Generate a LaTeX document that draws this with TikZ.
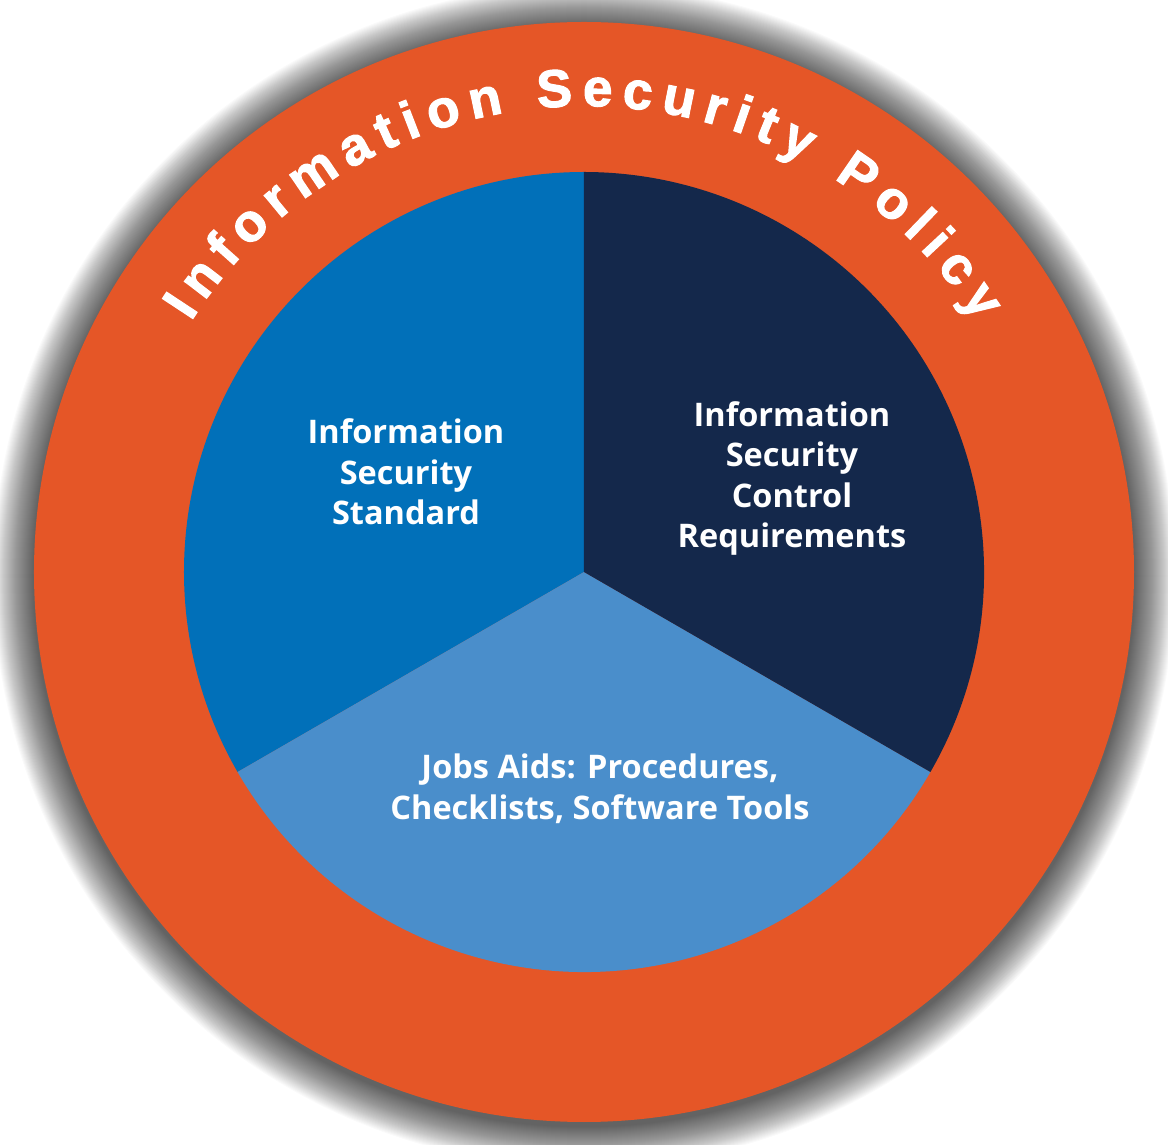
\documentclass[tikz,border=0pt]{standalone}
\usepackage{fontspec}
\usetikzlibrary{decorations.text}
\newfontfamily\curvefont{Liberation Sans}[BoldFeatures={FakeBold=2}]
\newfontfamily\innerfont{Open Sans}
\definecolor{ringorange}{RGB}{229,86,39}
\definecolor{navy}{RGB}{20,40,75}
\definecolor{midblue}{RGB}{1,112,185}
\definecolor{lightblue}{RGB}{74,142,203}
\begin{document}
\begin{tikzpicture}[x=1pt,y=1pt,
  labeltext/.style={text=white, align=center, font=\innerfont\bfseries\fontsize{32.5}{40.5}\selectfont}]
\useasboundingbox (-584pt,-573pt) rectangle (584pt,572pt);
\fill[white] (-584pt,-573pt) rectangle (584pt,572pt);
% soft shadow
\foreach \k in {0,...,40}{
  \fill[black, fill opacity=0.019] (0pt,-4pt) circle[radius={591pt-\k pt}];
}
% outer ring
\fill[ringorange] (0pt,0pt) circle[radius=550pt];
% sectors
\fill[midblue] (0pt,0pt) -- (90:400pt) arc[start angle=90, end angle=210, radius=400pt] -- cycle;
\fill[lightblue] (0pt,0pt) -- (210:400pt) arc[start angle=210, end angle=330, radius=400pt] -- cycle;
\fill[navy] (0pt,0pt) -- (330:400pt) arc[start angle=-30, end angle=90, radius=400pt] -- cycle;
% curved title
\path[decorate, decoration={text along path, text align={fit to path},
  text={|\curvefont\bfseries\fontsize{53}{60}\selectfont\color{white}|Information Security Policy}}]
  (147.5:466pt) arc[start angle=147.5, end angle=32.5, radius=466pt];
% labels
\node[labeltext] (std) at (-178pt,100pt) {Information\\Security\\Standard};
\node[labeltext] (ctrl) at (208pt,93.5pt) {Information\\Security\\Control\\Requirements};
\node[labeltext] (jobs) at (16pt,-217pt) {Jobs Aids: Procedures,\\Checklists, Software Tools};
\end{tikzpicture}
\end{document}
